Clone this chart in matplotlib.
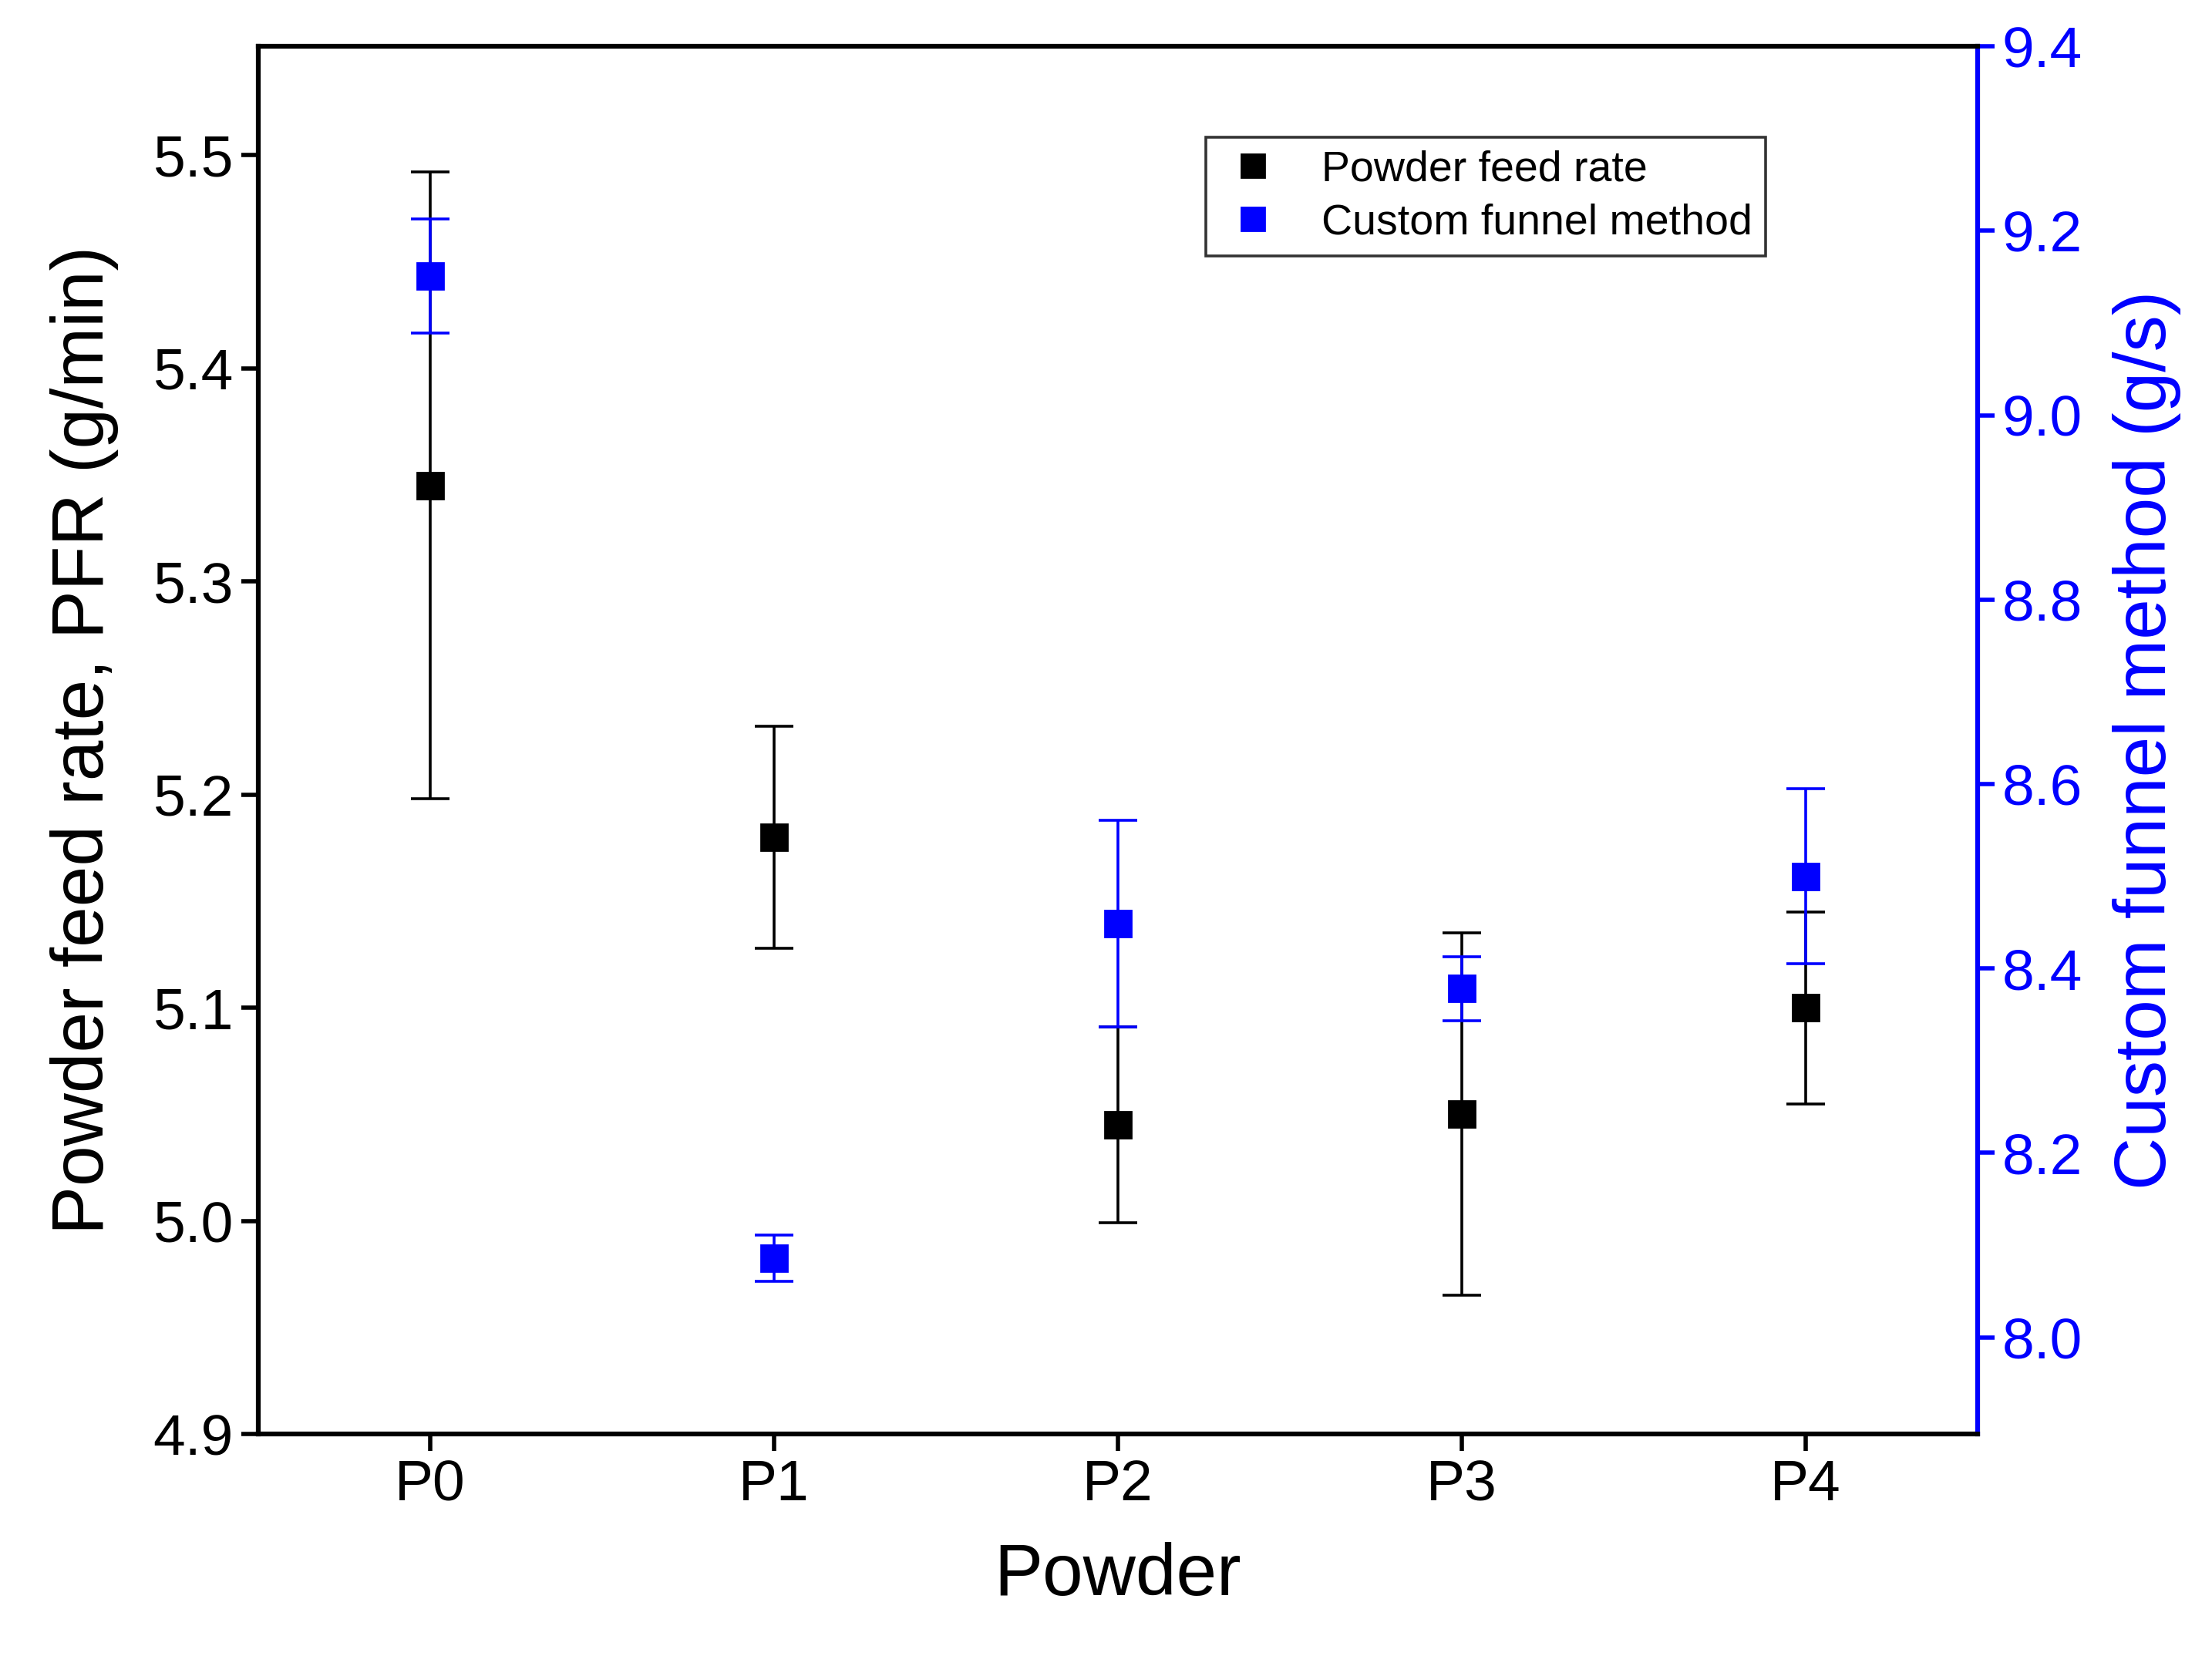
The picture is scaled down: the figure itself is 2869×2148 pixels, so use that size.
import matplotlib.pyplot as plt
from matplotlib.lines import Line2D

plt.rcParams['font.family'] = ['Liberation Sans', 'DejaVu Sans']

powders = ["P0", "P1", "P2", "P3", "P4"]
pfr = [5.345, 5.180, 5.045, 5.050, 5.100]
pfr_err = [0.147, 0.052, 0.046, 0.085, 0.045]
funnel = [9.151, 8.086, 8.449, 8.378, 8.500]
funnel_err = [0.062, 0.025, 0.112, 0.035, 0.095]

fig = plt.figure(figsize=(14.345, 10.74), dpi=200)
ax = fig.add_axes([0.1167, 0.134, 0.7773, 0.838])
ax2 = ax.twinx()

x = list(range(len(powders)))
ax.errorbar(x, pfr, yerr=pfr_err, fmt='s', color='black', ms=12,
            capsize=9, elinewidth=1.3, capthick=1.3)
ax2.errorbar(x, funnel, yerr=funnel_err, fmt='s', color='#0000ff', ms=12,
             capsize=9, elinewidth=1.3, capthick=1.3)

ax.set_xlim(-0.5, 4.5)
ax.set_ylim(4.9, 5.551)
ax2.set_ylim(7.895, 9.4)
ax.set_xticks(x)
ax.set_xticklabels(powders)
ax.set_yticks([4.9, 5.0, 5.1, 5.2, 5.3, 5.4, 5.5])
ax2.set_yticks([8.0, 8.2, 8.4, 8.6, 8.8, 9.0, 9.2, 9.4])
ax.yaxis.set_major_formatter(plt.FormatStrFormatter('%.1f'))
ax2.yaxis.set_major_formatter(plt.FormatStrFormatter('%.1f'))

ax.tick_params(labelsize=27, width=2, length=8)
ax2.tick_params(labelsize=27, width=2, length=8, colors='#0000ff')
for s in ax.spines.values():
    s.set_linewidth(2.2)
ax2.spines['right'].set_color('#0000ff')
ax2.spines['right'].set_linewidth(2.2)
for s in ['left', 'top', 'bottom']:
    ax2.spines[s].set_linewidth(2.2)

ax.set_xlabel("Powder", fontsize=34, labelpad=14)
ax.set_ylabel("Powder feed rate, PFR (g/min)", fontsize=34, labelpad=16)
ax2.set_ylabel("Custom funnel method (g/s)", fontsize=34, color='#0000ff', labelpad=14)

handles = [Line2D([], [], ls='none', marker='s', ms=11, color='black'),
           Line2D([], [], ls='none', marker='s', ms=11, color='#0000ff')]
leg = ax.legend(handles, ['Powder feed rate', 'Custom funnel method'],
                loc='upper right', bbox_to_anchor=(0.889, 0.95), fontsize=20,
                fancybox=False, edgecolor='black', handlelength=1.6,
                borderpad=0.3, labelspacing=0.3)
leg.get_frame().set_linewidth(1.3)

fig.savefig("out.png", dpi=200)
